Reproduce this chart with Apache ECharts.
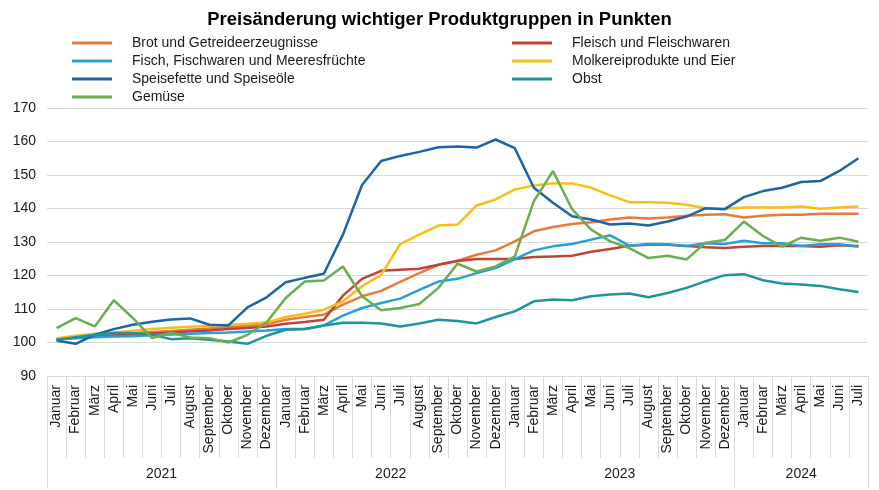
<!DOCTYPE html>
<html>
<head>
<meta charset="utf-8">
<script src="https://cdn.jsdelivr.net/npm/echarts@6/dist/echarts.min.js"></script>
<style>
html,body{margin:0;padding:0;background:#fff;}
#chart{width:879px;height:490px;}
</style>
</head>
<body>
<div id="chart"></div>
<script>
const months = ['Januar','Februar','März','April','Mai','Juni','Juli','August','September','Oktober','November','Dezember'];
const categories = [].concat(months, months, months, months.slice(0, 7));
const years = ['2021', '2022', '2023', '2024'];
const yearCenters = [6, 18, 30, 39.5];
const yearBounds = [0, 12, 24, 36, 43];

const brot = [101.0,101.6,102.0,102.4,102.8,103.1,103.4,103.8,104.2,104.6,105.0,105.5, 106.8,107.6,108.3,111.3,113.8,115.4,118.1,120.7,123.2,124.4,126.2,127.5, 130.2,133.2,134.5,135.4,135.9,136.7,137.3,137.0,137.3,137.8,138.1,138.3, 137.3,137.8,138.1,138.1,138.4,138.4,138.4];
const fleisch = [101.0,101.4,101.8,102.1,102.4,102.7,103.0,103.3,103.6,104.0,104.3,104.8, 105.6,106.1,106.8,114.0,119.0,121.4,121.7,122.0,123.2,124.3,124.9,124.9, 124.9,125.5,125.7,125.9,127.1,127.9,128.9,129.2,129.2,128.8,128.4,128.2, 128.6,128.8,128.8,128.8,128.6,129.0,128.8];
const fisch = [101.0,101.3,101.6,101.8,101.9,102.2,102.4,102.6,102.8,103.0,103.3,103.6, 104.0,104.0,105.1,108.0,110.3,111.8,113.1,115.7,118.2,119.0,120.7,122.2, 124.9,127.5,128.7,129.4,130.7,132.0,128.9,129.4,129.3,128.8,129.6,129.4, 130.4,129.6,129.6,128.8,129.3,129.3,128.6];
const molkerei = [101.3,102.0,102.6,103.0,103.5,104.0,104.4,104.7,105.0,105.3,105.6,106.0, 107.6,108.6,109.8,112.3,116.8,120.2,129.4,132.2,134.9,135.2,140.9,142.7, 145.7,146.9,147.5,147.5,146.2,143.9,141.9,141.9,141.7,141.1,140.1,139.9, 140.3,140.3,140.3,140.6,139.9,140.3,140.6];
const speisefette = [100.6,99.6,102.3,104.0,105.3,106.2,106.9,107.2,105.3,105.1,110.5,113.5, 118.0,119.3,120.5,132.2,147.0,154.2,155.7,156.9,158.3,158.5,158.2,160.6, 158.0,146.2,141.7,137.7,136.7,135.2,135.5,134.9,136.1,137.6,140.1,139.8, 143.4,145.2,146.2,147.9,148.2,151.2,155.0];
const obst = [100.8,101.6,102.3,102.8,102.8,102.3,101.0,101.3,100.8,100.3,99.6,102.0, 103.8,104.0,105.1,105.9,105.9,105.7,104.8,105.7,106.8,106.4,105.7,107.6, 109.3,112.3,112.8,112.6,113.8,114.3,114.6,113.5,114.8,116.3,118.3,120.1, 120.4,118.6,117.6,117.3,116.9,115.9,115.1];
const gemuese = [104.3,107.3,104.8,112.6,107.3,101.3,103.0,101.5,101.3,100.0,102.3,106.0, 113.3,118.2,118.5,122.7,113.8,109.6,110.3,111.5,116.3,123.5,121.2,122.7, 125.7,142.2,151.2,139.8,133.7,130.2,128.2,125.2,125.9,124.8,129.8,130.6, 136.1,131.8,128.6,131.3,130.4,131.3,130.1];

const seriesDefs = [
  {name: 'Brot und Getreideerzeugnisse', data: brot, color: '#E97A3B'},
  {name: 'Fleisch und Fleischwaren', data: fleisch, color: '#C0433A'},
  {name: 'Fisch, Fischwaren und Meeresfrüchte', data: fisch, color: '#24A0DA'},
  {name: 'Molkereiprodukte und Eier', data: molkerei, color: '#F9BE16'},
  {name: 'Speisefette und Speiseöle', data: speisefette, color: '#1A64A8'},
  {name: 'Obst', data: obst, color: '#1E959D'},
  {name: 'Gemüse', data: gemuese, color: '#6AAE4F'}
];

const FONT = 'Liberation Sans, Arial, sans-serif';
const chart = echarts.init(document.getElementById('chart'), null, {renderer: 'canvas'});
const legendBase = {
  orient: 'vertical', top: 35, padding: 0, icon: 'rect', itemWidth: 40, itemHeight: 3, itemGap: 2,
  textStyle: {fontFamily: FONT, fontSize: 14, lineHeight: 16, color: '#1a1a1a', padding: [0, 0, 0, 15]}
};
chart.setOption({
  animation: false,
  backgroundColor: '#fff',
  title: {
    text: 'Preisänderung wichtiger Produktgruppen in Punkten',
    left: 'center', top: 5,
    textStyle: {fontFamily: FONT, fontSize: 18.5, fontWeight: 'bold', color: '#000'}
  },
  legend: [
    Object.assign({}, legendBase, {left: 72, data: [seriesDefs[0].name, seriesDefs[2].name, seriesDefs[4].name, seriesDefs[6].name]}),
    Object.assign({}, legendBase, {left: 512, data: [seriesDefs[1].name, seriesDefs[3].name, seriesDefs[5].name]})
  ],
  grid: {left: 47, right: 11, top: 108, bottom: 114, containLabel: false},
  xAxis: [
    {
      type: 'category', data: categories, boundaryGap: true,
      axisLine: {show: true, lineStyle: {color: '#d9d9d9'}},
      axisTick: {show: true, interval: 0, length: 82, lineStyle: {color: '#d9d9d9'}},
      axisLabel: {interval: 0, rotate: 90, margin: 9, fontFamily: FONT, fontSize: 14, color: '#1a1a1a'},
      splitLine: {show: false}
    },
    {
      type: 'value', min: 0, max: 43, position: 'bottom',
      axisLine: {show: false},
      axisTick: {show: true, length: 112, customValues: yearBounds, lineStyle: {color: '#d9d9d9'}},
      axisLabel: {
        show: true, margin: 91, customValues: yearCenters,
        fontFamily: FONT, fontSize: 14, color: '#1a1a1a',
        formatter: function (v) { const i = yearCenters.indexOf(v); return i >= 0 ? years[i] : ''; }
      },
      splitLine: {show: false}
    }
  ],
  yAxis: {
    type: 'value', min: 90, max: 170, interval: 10,
    axisLine: {show: false}, axisTick: {show: false},
    axisLabel: {margin: 11, fontFamily: FONT, fontSize: 14, color: '#1a1a1a'},
    splitLine: {lineStyle: {color: '#d9d9d9'}}
  },
  series: seriesDefs.map(s => ({
    name: s.name, type: 'line', data: s.data, xAxisIndex: 0,
    symbol: 'none', smooth: false,
    lineStyle: {width: 2.5, color: s.color}, itemStyle: {color: s.color}
  }))
});
</script>
</body>
</html>
